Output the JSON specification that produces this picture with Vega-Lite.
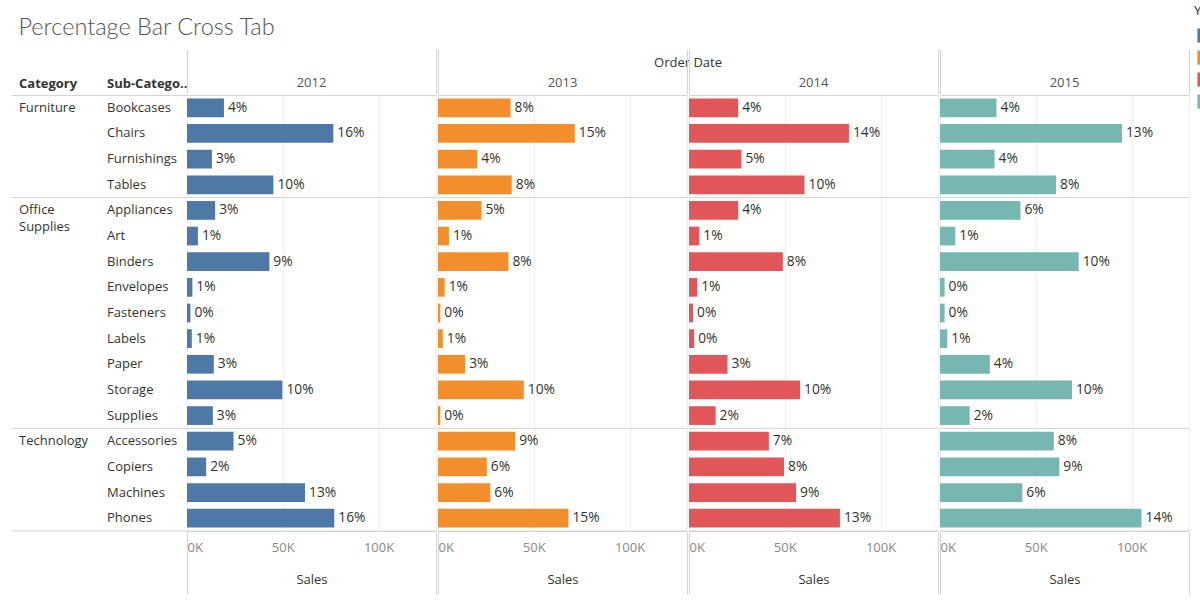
{
  "$schema": "https://vega.github.io/schema/vega-lite/v6.json",
  "background": "white",
  "padding": {"left": 10, "top": 5, "right": 0, "bottom": 0},
  "title": {
    "text": "Percentage Bar Cross Tab",
    "anchor": "start",
    "font": "Lato",
    "fontSize": 23.5,
    "fontWeight": 300,
    "color": "#555555",
    "dx": 8,
    "offset": -34
  },
  "data": {
    "values": [
      {"category": "Furniture", "sub": "Bookcases", "year": "2012", "sales": 19300, "pct": 0.04},
      {"category": "Furniture", "sub": "Chairs", "year": "2012", "sales": 76400, "pct": 0.16},
      {"category": "Furniture", "sub": "Furnishings", "year": "2012", "sales": 13000, "pct": 0.03},
      {"category": "Furniture", "sub": "Tables", "year": "2012", "sales": 45100, "pct": 0.10},
      {"category": "Office Supplies", "sub": "Appliances", "year": "2012", "sales": 14700, "pct": 0.03},
      {"category": "Office Supplies", "sub": "Art", "year": "2012", "sales": 5700, "pct": 0.01},
      {"category": "Office Supplies", "sub": "Binders", "year": "2012", "sales": 43000, "pct": 0.09},
      {"category": "Office Supplies", "sub": "Envelopes", "year": "2012", "sales": 2800, "pct": 0.01},
      {"category": "Office Supplies", "sub": "Fasteners", "year": "2012", "sales": 1800, "pct": 0.00},
      {"category": "Office Supplies", "sub": "Labels", "year": "2012", "sales": 2500, "pct": 0.01},
      {"category": "Office Supplies", "sub": "Paper", "year": "2012", "sales": 14000, "pct": 0.03},
      {"category": "Office Supplies", "sub": "Storage", "year": "2012", "sales": 49800, "pct": 0.10},
      {"category": "Office Supplies", "sub": "Supplies", "year": "2012", "sales": 13500, "pct": 0.03},
      {"category": "Technology", "sub": "Accessories", "year": "2012", "sales": 24300, "pct": 0.05},
      {"category": "Technology", "sub": "Copiers", "year": "2012", "sales": 10000, "pct": 0.02},
      {"category": "Technology", "sub": "Machines", "year": "2012", "sales": 61600, "pct": 0.13},
      {"category": "Technology", "sub": "Phones", "year": "2012", "sales": 76900, "pct": 0.16},

      {"category": "Furniture", "sub": "Bookcases", "year": "2013", "sales": 37900, "pct": 0.08},
      {"category": "Furniture", "sub": "Chairs", "year": "2013", "sales": 71400, "pct": 0.15},
      {"category": "Furniture", "sub": "Furnishings", "year": "2013", "sales": 20500, "pct": 0.04},
      {"category": "Furniture", "sub": "Tables", "year": "2013", "sales": 38500, "pct": 0.08},
      {"category": "Office Supplies", "sub": "Appliances", "year": "2013", "sales": 22700, "pct": 0.05},
      {"category": "Office Supplies", "sub": "Art", "year": "2013", "sales": 5700, "pct": 0.01},
      {"category": "Office Supplies", "sub": "Binders", "year": "2013", "sales": 36800, "pct": 0.08},
      {"category": "Office Supplies", "sub": "Envelopes", "year": "2013", "sales": 3500, "pct": 0.01},
      {"category": "Office Supplies", "sub": "Fasteners", "year": "2013", "sales": 1200, "pct": 0.00},
      {"category": "Office Supplies", "sub": "Labels", "year": "2013", "sales": 2500, "pct": 0.01},
      {"category": "Office Supplies", "sub": "Paper", "year": "2013", "sales": 14200, "pct": 0.03},
      {"category": "Office Supplies", "sub": "Storage", "year": "2013", "sales": 44800, "pct": 0.10},
      {"category": "Office Supplies", "sub": "Supplies", "year": "2013", "sales": 1200, "pct": 0.00},
      {"category": "Technology", "sub": "Accessories", "year": "2013", "sales": 40300, "pct": 0.09},
      {"category": "Technology", "sub": "Copiers", "year": "2013", "sales": 25500, "pct": 0.06},
      {"category": "Technology", "sub": "Machines", "year": "2013", "sales": 27300, "pct": 0.06},
      {"category": "Technology", "sub": "Phones", "year": "2013", "sales": 68100, "pct": 0.15},

      {"category": "Furniture", "sub": "Bookcases", "year": "2014", "sales": 25700, "pct": 0.04},
      {"category": "Furniture", "sub": "Chairs", "year": "2014", "sales": 83500, "pct": 0.14},
      {"category": "Furniture", "sub": "Furnishings", "year": "2014", "sales": 27400, "pct": 0.05},
      {"category": "Furniture", "sub": "Tables", "year": "2014", "sales": 60300, "pct": 0.10},
      {"category": "Office Supplies", "sub": "Appliances", "year": "2014", "sales": 25700, "pct": 0.04},
      {"category": "Office Supplies", "sub": "Art", "year": "2014", "sales": 5400, "pct": 0.01},
      {"category": "Office Supplies", "sub": "Binders", "year": "2014", "sales": 49000, "pct": 0.08},
      {"category": "Office Supplies", "sub": "Envelopes", "year": "2014", "sales": 4300, "pct": 0.01},
      {"category": "Office Supplies", "sub": "Fasteners", "year": "2014", "sales": 2100, "pct": 0.00},
      {"category": "Office Supplies", "sub": "Labels", "year": "2014", "sales": 2700, "pct": 0.00},
      {"category": "Office Supplies", "sub": "Paper", "year": "2014", "sales": 20100, "pct": 0.03},
      {"category": "Office Supplies", "sub": "Storage", "year": "2014", "sales": 58000, "pct": 0.10},
      {"category": "Office Supplies", "sub": "Supplies", "year": "2014", "sales": 13900, "pct": 0.02},
      {"category": "Technology", "sub": "Accessories", "year": "2014", "sales": 41700, "pct": 0.07},
      {"category": "Technology", "sub": "Copiers", "year": "2014", "sales": 49600, "pct": 0.08},
      {"category": "Technology", "sub": "Machines", "year": "2014", "sales": 55900, "pct": 0.09},
      {"category": "Technology", "sub": "Phones", "year": "2014", "sales": 78800, "pct": 0.13},

      {"category": "Furniture", "sub": "Bookcases", "year": "2015", "sales": 29500, "pct": 0.04},
      {"category": "Furniture", "sub": "Chairs", "year": "2015", "sales": 95000, "pct": 0.13},
      {"category": "Furniture", "sub": "Furnishings", "year": "2015", "sales": 28500, "pct": 0.04},
      {"category": "Furniture", "sub": "Tables", "year": "2015", "sales": 60600, "pct": 0.08},
      {"category": "Office Supplies", "sub": "Appliances", "year": "2015", "sales": 42000, "pct": 0.06},
      {"category": "Office Supplies", "sub": "Art", "year": "2015", "sales": 8000, "pct": 0.01},
      {"category": "Office Supplies", "sub": "Binders", "year": "2015", "sales": 72400, "pct": 0.10},
      {"category": "Office Supplies", "sub": "Envelopes", "year": "2015", "sales": 2400, "pct": 0.00},
      {"category": "Office Supplies", "sub": "Fasteners", "year": "2015", "sales": 2400, "pct": 0.00},
      {"category": "Office Supplies", "sub": "Labels", "year": "2015", "sales": 3800, "pct": 0.01},
      {"category": "Office Supplies", "sub": "Paper", "year": "2015", "sales": 26000, "pct": 0.04},
      {"category": "Office Supplies", "sub": "Storage", "year": "2015", "sales": 68900, "pct": 0.10},
      {"category": "Office Supplies", "sub": "Supplies", "year": "2015", "sales": 15500, "pct": 0.02},
      {"category": "Technology", "sub": "Accessories", "year": "2015", "sales": 59400, "pct": 0.08},
      {"category": "Technology", "sub": "Copiers", "year": "2015", "sales": 62300, "pct": 0.09},
      {"category": "Technology", "sub": "Machines", "year": "2015", "sales": 43000, "pct": 0.06},
      {"category": "Technology", "sub": "Phones", "year": "2015", "sales": 105200, "pct": 0.14}
    ]
  },
  "spacing": 0,
  "bounds": "flush",
  "resolve": {"scale": {"y": "shared", "x": "independent"}},
  "hconcat": [
    {
      "width": 176,
      "height": 436,
      "view": {"stroke": null},
      "layer": [
        {
          "transform": [
            {"window": [{"op": "row_number", "as": "rank"}], "groupby": ["category"], "sort": [{"field": "sub", "order": "descending"}, {"field": "year", "order": "ascending"}]},
            {"filter": "datum.rank === 1"}
          ],
          "mark": {"type": "rule", "color": "#d4d4d4", "strokeWidth": 1},
          "encoding": {
            "y": {"field": "sub", "type": "nominal", "bandPosition": 1, "axis": null,
                  "scale": {"domain": ["Bookcases", "Chairs", "Furnishings", "Tables", "Appliances", "Art", "Binders", "Envelopes", "Fasteners", "Labels", "Paper", "Storage", "Supplies", "Accessories", "Copiers", "Machines", "Phones"]}}
          }
        },
        {
          "transform": [
            {"window": [{"op": "row_number", "as": "rank"}], "groupby": ["category"], "sort": [{"field": "sub", "order": "ascending"}, {"field": "year", "order": "ascending"}]},
            {"filter": "datum.rank === 1"}
          ],
          "mark": {"type": "text", "align": "left", "baseline": "middle", "dx": 8, "lineBreak": " ", "lineHeight": 17, "fontSize": 13, "color": "#333333"},
          "encoding": {
            "x": {"datum": "Category", "type": "nominal", "bandPosition": 0,
                  "scale": {"type": "band", "paddingInner": 0, "paddingOuter": 0},
                  "axis": {"orient": "top", "title": null, "domain": true, "domainColor": "#d4d4d4", "ticks": false,
                           "labelAlign": "left", "labelBaseline": "bottom", "labelAngle": 0,
                           "labelPadding": 5, "labelOffset": -36, "labelFontSize": 13, "labelFontWeight": "bold", "labelColor": "#333333",
                           "labelExpr": "length(datum.value) > 10 ? slice(datum.value, 0, 10) + '..' : datum.value"}},
            "y": {"field": "sub", "type": "nominal", "axis": null,
                  "scale": {"domain": ["Bookcases", "Chairs", "Furnishings", "Tables", "Appliances", "Art", "Binders", "Envelopes", "Fasteners", "Labels", "Paper", "Storage", "Supplies", "Accessories", "Copiers", "Machines", "Phones"]}},
            "text": {"field": "category", "type": "nominal"}
          }
        },
        {
          "transform": [
            {"window": [{"op": "row_number", "as": "rank"}], "groupby": ["sub"], "sort": [{"field": "year", "order": "ascending"}]},
            {"filter": "datum.rank === 1"}
          ],
          "mark": {"type": "text", "align": "left", "baseline": "middle", "dx": 8, "fontSize": 13, "color": "#333333"},
          "encoding": {
            "x": {"datum": "Sub-Category", "type": "nominal", "bandPosition": 0,
                  "scale": {"type": "band", "paddingInner": 0, "paddingOuter": 0}},
            "y": {"field": "sub", "type": "nominal", "axis": null,
                  "scale": {"domain": ["Bookcases", "Chairs", "Furnishings", "Tables", "Appliances", "Art", "Binders", "Envelopes", "Fasteners", "Labels", "Paper", "Storage", "Supplies", "Accessories", "Copiers", "Machines", "Phones"]}},
            "text": {"field": "sub", "type": "nominal"}
          }
        }
      ]
    },
    {
      "facet": {
        "column": {
          "field": "year", "type": "nominal", "title": "Order Date",
          "header": {"labelFontSize": 13, "labelColor": "#555555", "labelPadding": -41,
                     "titleFontSize": 13, "titleFontWeight": "normal", "titleColor": "#333333", "titlePadding": -32}
        }
      },
      "spacing": 0,
      "spec": {
        "width": 249,
        "height": 436,
        "resolve": {"axis": {"x": "independent"}},
        "layer": [
          {
            "mark": {"type": "bar", "height": {"band": 0.73}},
            "encoding": {
              "y": {"field": "sub", "type": "nominal", "axis": null,
                    "scale": {"domain": ["Bookcases", "Chairs", "Furnishings", "Tables", "Appliances", "Art", "Binders", "Envelopes", "Fasteners", "Labels", "Paper", "Storage", "Supplies", "Accessories", "Copiers", "Machines", "Phones"]}},
              "x": {"field": "sales", "type": "quantitative", "scale": {"domain": [0, 130000], "nice": false},
                    "axis": {"orient": "bottom", "values": [0, 50000, 100000, 130000],
                             "labelExpr": "datum.value >= 130000 ? '' : format(datum.value / 1000, 'd') + 'K'",
                             "labelFlush": true, "labelOverlap": false,
                             "grid": true, "gridColor": "#efefef", "domain": false,
                             "ticks": true, "tickSize": 62, "tickColor": "#d4d4d4",
                             "tickOpacity": {"condition": {"test": "datum.value == 0 || datum.value >= 130000", "value": 1}, "value": 0},
                             "labelPadding": -53, "labelColor": "#888888", "labelFontSize": 13,
                             "title": "Sales", "titleFontSize": 13, "titleFontWeight": "normal", "titleColor": "#333333",
                             "titleY": 47, "titleBaseline": "middle"}},
              "color": {"field": "year", "type": "nominal", "scale": {"range": ["#4e79a7", "#f28e2b", "#e15759", "#76b7b2"]},
                        "legend": {"title": "Year of Order Date", "orient": "none", "legendX": 1183, "legendY": -90,
                                   "symbolType": "square", "symbolSize": 200, "symbolStrokeWidth": 0, "symbolOffset": 3,
                                   "titleFontSize": 13, "titleFontWeight": "normal", "titleColor": "#333333", "titlePadding": 10,
                                   "labelFontSize": 13, "labelColor": "#333333", "rowPadding": 7, "padding": 0}}
            }
          },
          {
            "mark": {"type": "text", "align": "left", "baseline": "middle", "dx": 4, "fontSize": 13.8, "color": "#333333"},
            "encoding": {
              "y": {"field": "sub", "type": "nominal", "axis": null,
                    "scale": {"domain": ["Bookcases", "Chairs", "Furnishings", "Tables", "Appliances", "Art", "Binders", "Envelopes", "Fasteners", "Labels", "Paper", "Storage", "Supplies", "Accessories", "Copiers", "Machines", "Phones"]}},
              "x": {"field": "sales", "type": "quantitative",
                    "axis": {"orient": "top", "values": [0, 130000], "title": null, "labels": false, "grid": false, "domain": false,
                             "ticks": true, "tickSize": 45, "tickColor": "#d4d4d4"}},
              "text": {"field": "pct", "type": "quantitative", "format": ".0%"}
            }
          },
          {
            "transform": [
              {"window": [{"op": "row_number", "as": "rank"}], "groupby": ["year", "category"], "sort": [{"field": "sub", "order": "descending"}]},
              {"filter": "datum.rank === 1"}
            ],
            "mark": {"type": "rule", "color": "#d4d4d4", "strokeWidth": 1},
            "encoding": {
              "y": {"field": "sub", "type": "nominal", "bandPosition": 1, "axis": null,
                    "scale": {"domain": ["Bookcases", "Chairs", "Furnishings", "Tables", "Appliances", "Art", "Binders", "Envelopes", "Fasteners", "Labels", "Paper", "Storage", "Supplies", "Accessories", "Copiers", "Machines", "Phones"]}}
            }
          }
        ]
      }
    }
  ],
  "config": {
    "font": "Open Sans",
    "view": {"stroke": "#d4d4d4"},
    "scale": {"bandPaddingInner": 0, "bandPaddingOuter": 0},
    "axis": {"labelFont": "Open Sans", "titleFont": "Open Sans"},
    "header": {"labelFont": "Open Sans", "titleFont": "Open Sans"},
    "legend": {"labelFont": "Open Sans", "titleFont": "Open Sans"}
  }
}
